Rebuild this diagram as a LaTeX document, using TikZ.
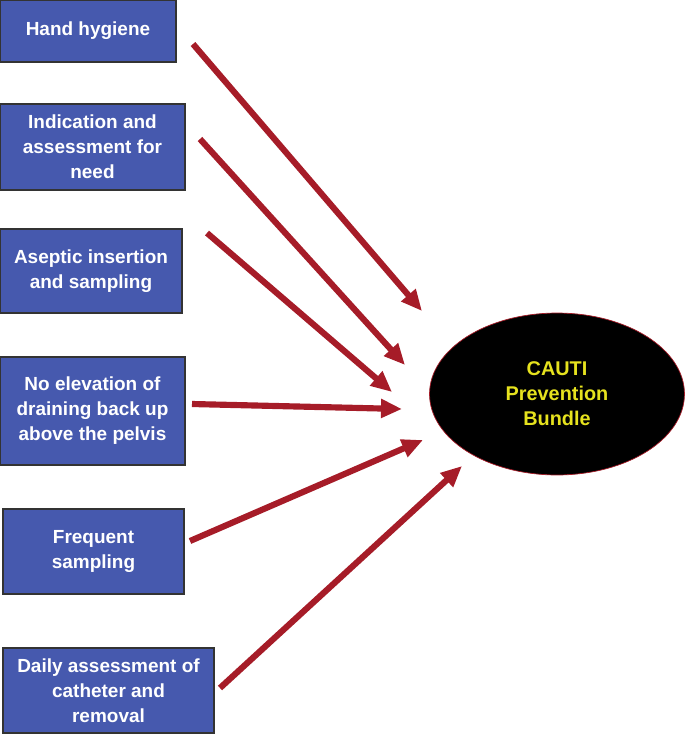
\documentclass[tikz,border=0pt]{standalone}
\usepackage{fontspec}
\setmainfont{Liberation Sans}
\usepackage{tikz}
\usetikzlibrary{shapes.geometric,arrows.meta}
\definecolor{boxblue}{HTML}{4659AE}
\definecolor{arrowred}{HTML}{A61C28}
\definecolor{textyellow}{HTML}{E6E21E}

\begin{document}
\begin{tikzpicture}[x=0.02cm, y=-0.02cm,
    item/.style={draw=black!80, fill=boxblue, text=white, font=\fontsize{10.8}{14.2}\selectfont\bfseries,
      align=center, inner sep=0pt, line width=0.6pt},
    bundle/.style={ellipse, draw=arrowred, fill=black, text=textyellow,
      font=\fontsize{11.3}{14.2}\selectfont\bfseries, align=center, inner sep=0pt,
      minimum width=5.1cm, minimum height=3.24cm},
    feed/.style={draw=arrowred, line width=3.5pt, -{Triangle[length=0.42cm,width=0.36cm]}}]
      \useasboundingbox (0, 0) rectangle (685, 735);
      \node[item, minimum width=3.52cm, minimum height=1.24cm] (hyg) at (88, 31) {Hand hygiene};
      \node[item, minimum width=3.70cm, minimum height=1.72cm] (need) at (92.5, 147) {Indication and\\assessment for\\need};
      \node[item, minimum width=3.64cm, minimum height=1.68cm] (asep) at (91, 271) {Aseptic insertion\\and sampling};
      \node[item, minimum width=3.70cm, minimum height=2.16cm] (elev) at (92.5, 411) {No elevation of\\draining back up\\above the pelvis};
      \node[item, minimum width=3.62cm, minimum height=1.70cm] (freq) at (93.5, 551.5) {Frequent\\sampling};
      \node[item, minimum width=4.22cm, minimum height=1.70cm] (daily) at (108.5, 690.5) {Daily assessment of\\catheter and\\removal};
      \node[bundle] (cauti) at (557, 394) {CAUTI\\Prevention\\Bundle};
      % arrow ends
      \coordinate (hyg-s) at (193, 44);   \coordinate (hyg-t) at (422, 311);
      \coordinate (need-s) at (200, 139); \coordinate (need-t) at (405, 365);
      \coordinate (asep-s) at (207, 233); \coordinate (asep-t) at (392, 392);
      \coordinate (elev-s) at (192, 404); \coordinate (elev-t) at (402, 409);
      \coordinate (freq-s) at (190, 541); \coordinate (freq-t) at (423, 440);
      \coordinate (daily-s) at (220, 688); \coordinate (daily-t) at (462, 466);
      \draw[feed] (hyg-s) to (hyg-t);
      \draw[feed] (need-s) to (need-t);
      \draw[feed] (asep-s) to (asep-t);
      \draw[feed] (elev-s) to (elev-t);
      \draw[feed] (freq-s) to (freq-t);
      \draw[feed] (daily-s) to (daily-t);
\end{tikzpicture}
\end{document}
